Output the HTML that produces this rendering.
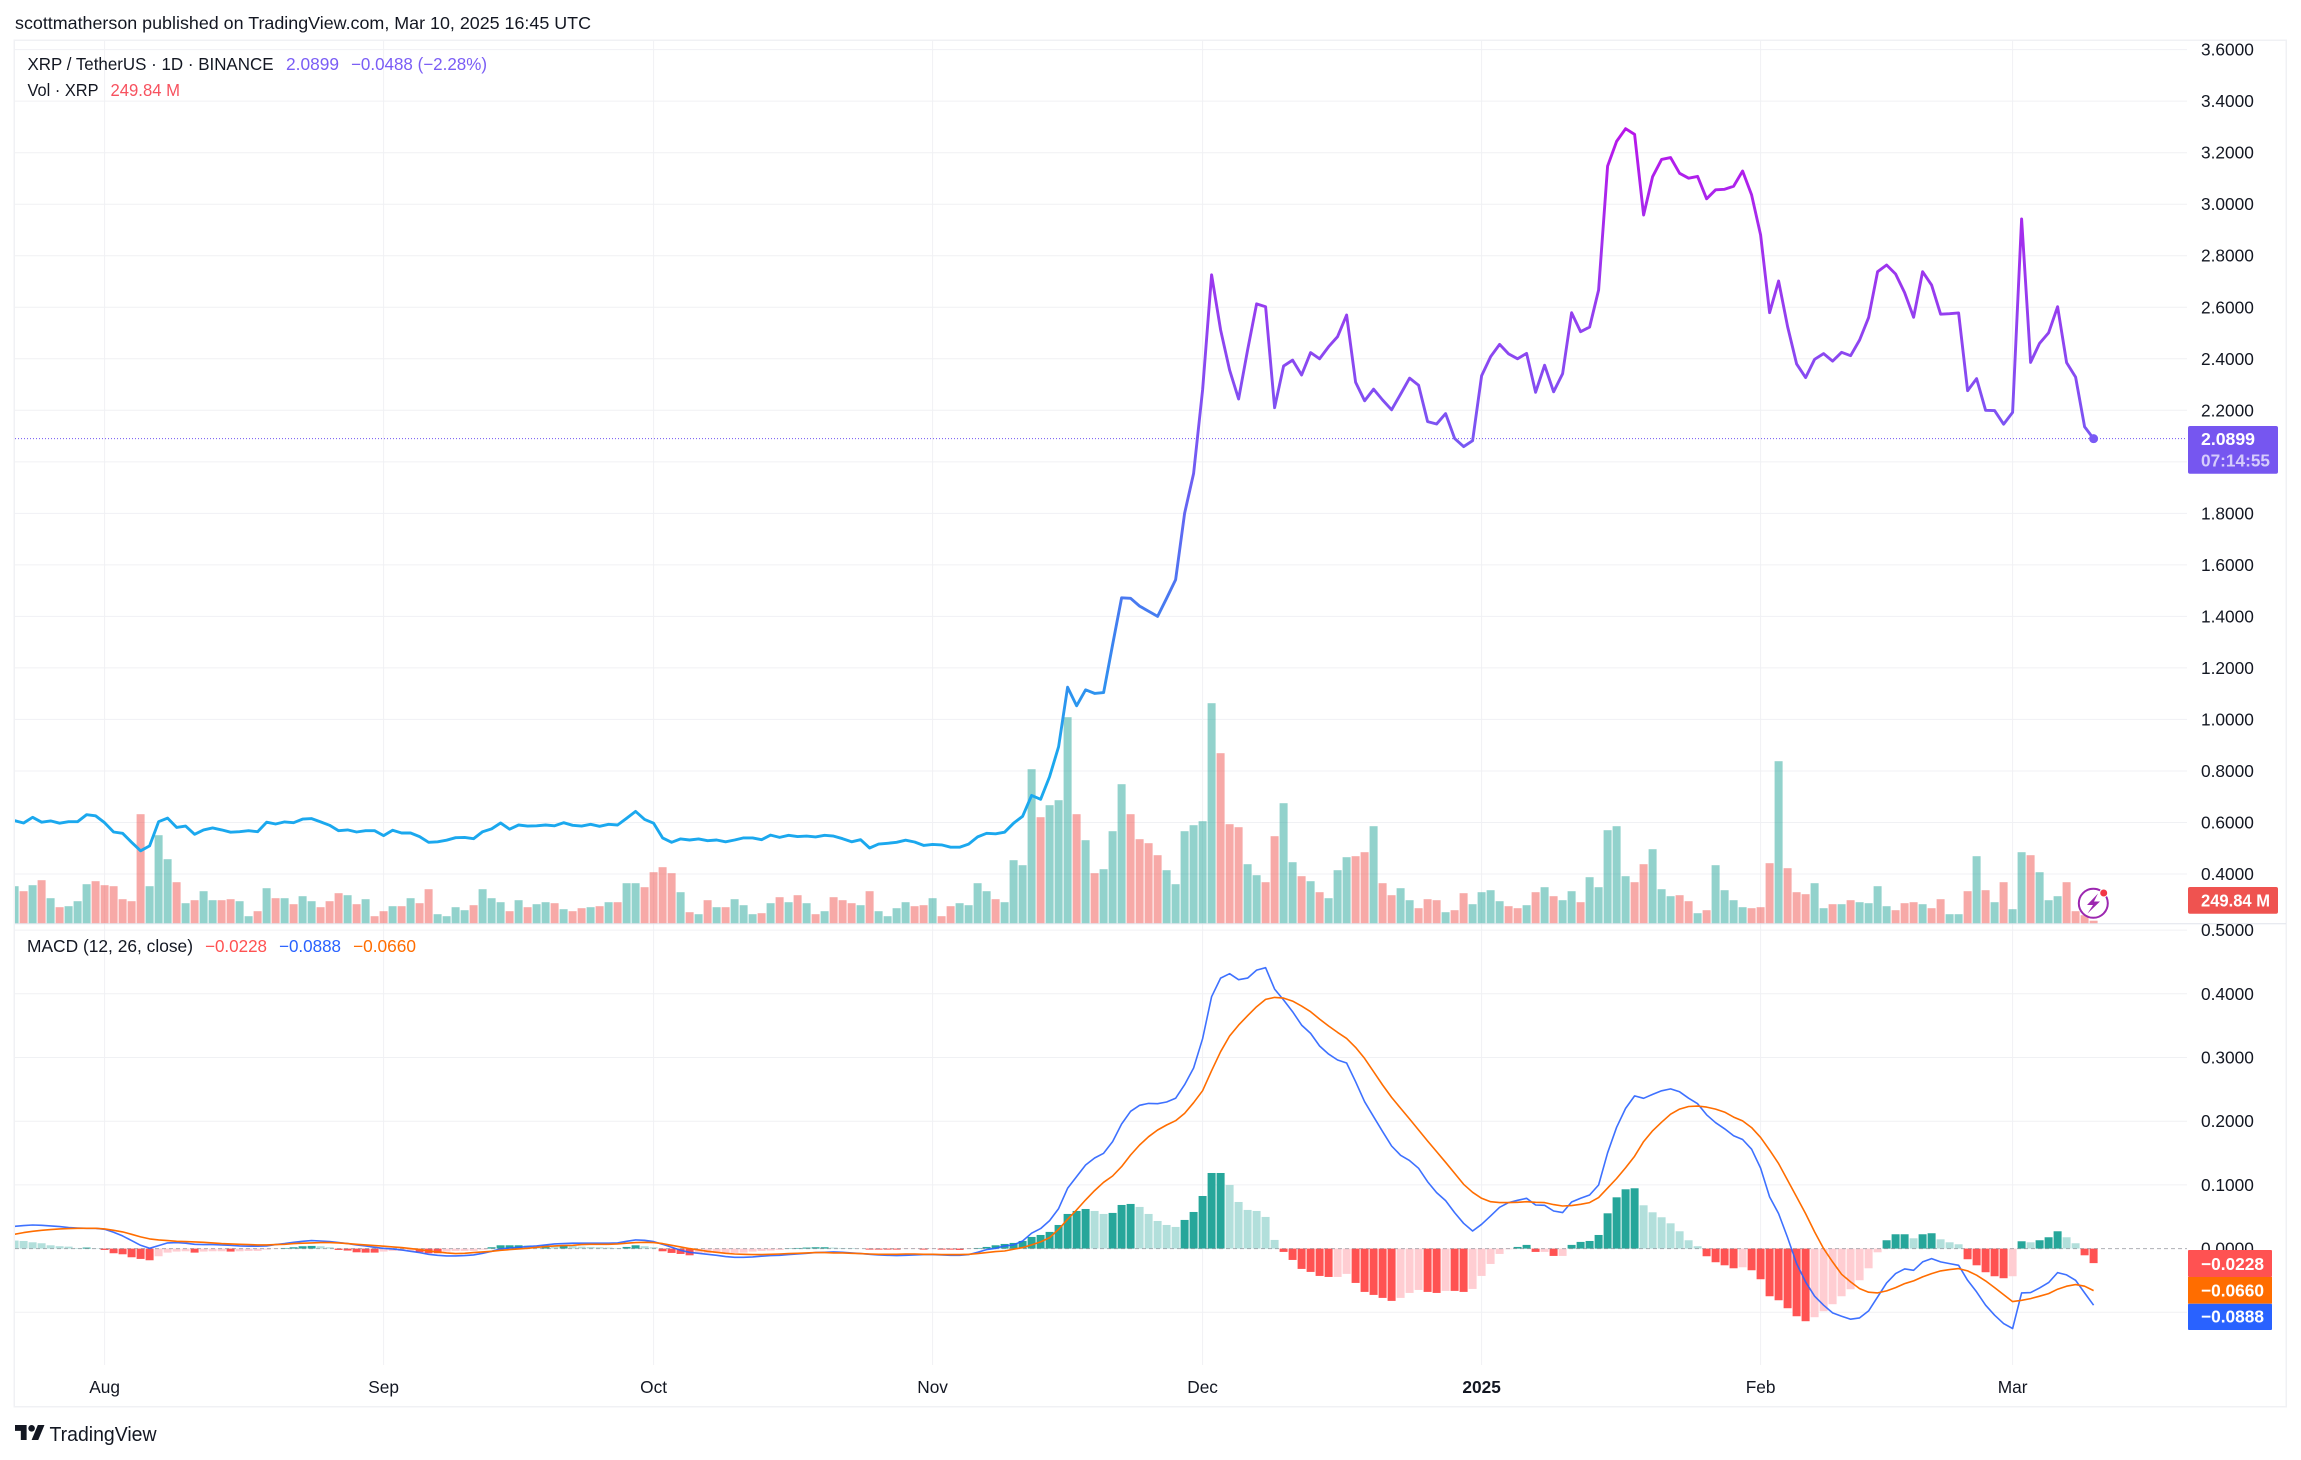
<!DOCTYPE html>
<html lang="en">
<head>
<meta charset="utf-8">
<title>XRP / TetherUS chart</title>
<style>
html,body{margin:0;padding:0;background:#fff;width:2301px;height:1460px;overflow:hidden}
svg{display:block}
text{font-family:"Liberation Sans",sans-serif;font-size:17.3px;fill:#131722}
</style>
</head>
<body>
<svg id="chart" xmlns="http://www.w3.org/2000/svg" width="2301" height="1460" viewBox="0 0 2301 1460">
  <defs>
    <linearGradient id="priceGradient" gradientUnits="userSpaceOnUse" x1="0" y1="125" x2="0" y2="850">
      <stop offset="0" stop-color="#b915ea"/>
      <stop offset="0.30" stop-color="#8e45f0"/>
      <stop offset="0.43" stop-color="#7a56f3"/>
      <stop offset="0.70" stop-color="#3f80f0"/>
      <stop offset="0.88" stop-color="#1ba8ee"/>
      <stop offset="1" stop-color="#1ba8ee"/>
    </linearGradient>
    <clipPath id="plotClip"><rect x="15" y="41" width="2172" height="1324"/></clipPath>
  </defs>
  <rect x="0" y="0" width="2301" height="1460" fill="#ffffff"/>
  <text x="15" y="29" textLength="576" lengthAdjust="spacingAndGlyphs">scottmatherson published on TradingView.com, Mar 10, 2025 16:45 UTC</text>
  <rect x="14.25" y="40.25" width="2272" height="1366.5" fill="none" stroke="#f0f1f4" stroke-width="1.5"/>

  <g id="gridLayer"></g>
  <line x1="15" x2="2286" y1="923.7" y2="923.7" stroke="#e0e3eb" stroke-width="1"/>

  <g clip-path="url(#plotClip)">
    <g id="volumeLayer"></g>
    <g id="histLayer"></g>
    <line x1="15" x2="2187" y1="1248.6" y2="1248.6" stroke="#787b86" stroke-opacity="0.6" stroke-width="1" stroke-dasharray="4 3"/>
    <polyline id="macdLine" fill="none" stroke="#2962ff" stroke-opacity="0.9" stroke-width="1.6" stroke-linejoin="round"/>
    <polyline id="signalLine" fill="none" stroke="#ff6d00" stroke-width="1.6" stroke-linejoin="round"/>
    <line id="lastPriceLine" x1="15" x2="2187" stroke="#7256f2" stroke-width="1" stroke-dasharray="1 2"/>
    <polyline id="priceLine" fill="none" stroke="url(#priceGradient)" stroke-width="2.9" stroke-linejoin="round"/>
    <circle id="lastPriceDot" r="4.5" fill="#7a5af5"/>
  </g>

  <g id="axisLayer"></g>

  <g>
    <text x="27.5" y="70" textLength="246" lengthAdjust="spacingAndGlyphs">XRP / TetherUS · 1D · BINANCE</text>
    <text x="286" y="70" textLength="53" lengthAdjust="spacingAndGlyphs" style="fill:#7a5df5">2.0899</text>
    <text x="351" y="70" textLength="136" lengthAdjust="spacingAndGlyphs" style="fill:#7a5df5">−0.0488 (−2.28%)</text>
    <text x="27.5" y="96" textLength="71" lengthAdjust="spacingAndGlyphs">Vol · XRP</text>
    <text x="110.5" y="96" textLength="69.5" lengthAdjust="spacingAndGlyphs" style="fill:#f7525f">249.84 M</text>
  </g>
  <g>
    <text x="27" y="952" textLength="166" lengthAdjust="spacingAndGlyphs">MACD (12, 26, close)</text>
    <text x="205" y="952" textLength="62" lengthAdjust="spacingAndGlyphs" style="fill:#ff5252">−0.0228</text>
    <text x="279" y="952" textLength="62" lengthAdjust="spacingAndGlyphs" style="fill:#2962ff">−0.0888</text>
    <text x="353" y="952" textLength="63" lengthAdjust="spacingAndGlyphs" style="fill:#ff6d00">−0.0660</text>
  </g>

  <g>
    <rect x="2188" y="426" width="90" height="47.7" rx="2" fill="#7656f0"/>
    <text x="2201" y="445" textLength="54" lengthAdjust="spacingAndGlyphs" style="fill:#ffffff;font-weight:bold">2.0899</text>
    <text x="2201" y="466.7" textLength="69" lengthAdjust="spacingAndGlyphs" style="fill:#d6ccfb;font-weight:bold">07:14:55</text>
  </g>
  <g>
    <rect x="2188" y="887" width="90" height="26.7" rx="2" fill="#ef5350"/>
    <text x="2201" y="906.7" textLength="69" lengthAdjust="spacingAndGlyphs" style="fill:#ffffff;font-weight:bold">249.84 M</text>
  </g>
  <g>
    <rect x="2188" y="1250" width="84" height="27" rx="1" fill="#ff5252"/>
    <text x="2201" y="1270" textLength="63" lengthAdjust="spacingAndGlyphs" style="fill:#ffffff;font-weight:bold">−0.0228</text>
    <rect x="2188" y="1277" width="84" height="26.7" fill="#ff6d00"/>
    <text x="2201" y="1296.7" textLength="63" lengthAdjust="spacingAndGlyphs" style="fill:#ffffff;font-weight:bold">−0.0660</text>
    <rect x="2188" y="1303.7" width="84" height="26.3" rx="1" fill="#2962ff"/>
    <text x="2201" y="1322.7" textLength="63" lengthAdjust="spacingAndGlyphs" style="fill:#ffffff;font-weight:bold">−0.0888</text>
  </g>

  <g>
    <circle cx="2093.3" cy="903.3" r="14.5" fill="#ffffff" fill-opacity="0.6" stroke="#9c27b0" stroke-width="2"/>
    <path d="M2098 893.5 L2087 905 L2093 905 L2087.5 913.5 L2100 901.5 L2094 901.5 Z" fill="#9c27b0"/>
    <circle cx="2103.7" cy="893" r="4" fill="#f23645" stroke="#ffffff" stroke-width="1"/>
  </g>

  <g>
    <path transform="translate(15 1421.7) scale(0.83)" d="M14 22H7V11H0V4h14v18zM28 22h-8l7.5-18h8L28 22z" fill="#131722"/>
    <circle cx="31.6" cy="1428.3" r="3.3" fill="#131722"/>
    <text x="49.5" y="1441" textLength="107" lengthAdjust="spacingAndGlyphs" style="font-size:20px">TradingView</text>
  </g>
</svg>

<script>
const monthLabels = ['Aug','Sep','Oct','Nov','Dec','2025','Feb','Mar'];
const monthDayIndex = [10,41,71,102,132,163,194,222];
const priceTicks = ['3.6000','3.4000','3.2000','3.0000','2.8000','2.6000','2.4000','2.2000','2.0000','1.8000','1.6000','1.4000','1.2000','1.0000','0.8000','0.6000','0.4000'];
const macdTicks = ['0.5000','0.4000','0.3000','0.2000','0.1000','0.0000','-0.1000'];

const closePrice = [
.607,.598,.620,.601,.606,.597,.603,.603,.630,.626,
.599,.563,.558,.523,.490,.509,.603,.617,.581,.586,
.554,.571,.579,.571,.562,.564,.568,.564,.601,.594,
.602,.599,.613,.615,.602,.589,.568,.571,.563,.568,
.568,.549,.570,.559,.559,.545,.523,.525,.531,.541,
.542,.537,.564,.575,.598,.574,.590,.586,.587,.590,
.587,.599,.589,.586,.593,.585,.593,.590,.616,.643,
.612,.597,.540,.523,.536,.532,.536,.529,.532,.525,
.532,.540,.540,.533,.551,.542,.550,.545,.547,.544,
.550,.547,.537,.525,.533,.501,.516,.519,.523,.531,
.524,.511,.515,.513,.504,.504,.516,.544,.558,.556,
.562,.597,.624,.705,.690,.778,.894,1.125,1.053,1.115,
1.101,1.104,1.29,1.472,1.47,1.44,1.42,1.40,1.47,1.542,
1.80,1.955,2.279,2.726,2.512,2.356,2.244,2.434,2.613,2.602,
2.210,2.372,2.395,2.337,2.424,2.400,2.447,2.486,2.570,2.309,
2.237,2.282,2.240,2.202,2.263,2.325,2.297,2.156,2.147,2.187,
2.091,2.059,2.082,2.334,2.408,2.456,2.419,2.400,2.421,2.270,
2.375,2.272,2.342,2.579,2.505,2.523,2.667,3.148,3.244,3.293,
3.271,2.958,3.107,3.174,3.181,3.120,3.101,3.108,3.021,3.056,
3.058,3.070,3.129,3.036,2.881,2.579,2.702,2.525,2.380,2.327,
2.398,2.420,2.391,2.425,2.412,2.473,2.560,2.738,2.764,2.729,
2.657,2.561,2.738,2.686,2.573,2.575,2.578,2.276,2.323,2.200,
2.199,2.146,2.192,2.943,2.386,2.460,2.501,2.602,2.385,2.329,
2.136,2.0899];

const volumeHundredM = [
37,32,38,43,25,16,17,22,39,42,
38,37,24,22,109,37,88,64,41,20,
23,32,23,23,24,22,7,12,35,25,
25,19,27,22,16,22,30,28,19,24,
7,12,17,17,25,20,34,9,7,16,
13,18,34,25,21,12,23,16,19,21,
20,14,12,15,16,17,21,21,40,40,
36,51,56,50,31,11,9,23,16,16,
24,18,9,10,20,26,21,28,20,9,
12,26,23,20,18,32,12,7,15,21,
17,18,25,7,17,20,18,40,32,24,
21,63,58,154,106,118,123,206,109,83,
50,54,92,139,109,84,80,68,53,39,
92,98,102,220,170,99,96,59,48,41,
87,120,61,47,42,31,25,53,66,67,
71,97,40,28,35,23,15,24,23,11,
13,30,19,31,33,22,17,15,18,31,
36,27,23,32,21,46,36,93,97,47,
41,59,74,34,27,28,22,10,13,58,
33,23,16,15,16,60,162,55,31,29,
40,15,19,19,23,21,20,37,17,13,
20,21,19,15,24,9,9,32,67,33,
21,41,14,71,68,51,23,27,41,12,
8,2.5];

const volumeDirection = [
'u','d','u','d','u','d','u','u','u','d',
'd','d','d','d','d','u','u','u','d','u',
'd','u','u','d','d','u','u','d','u','d',
'u','d','u','u','d','d','d','u','d','u',
'd','d','u','d','u','d','d','u','u','u',
'u','d','u','u','u','d','u','d','u','u',
'd','u','d','d','u','d','u','d','u','u',
'd','d','d','d','u','d','u','d','u','d',
'u','u','u','d','u','d','u','d','u','d',
'u','d','d','d','u','d','u','u','u','u',
'd','d','u','d','d','u','u','u','u','d',
'u','u','u','u','d','u','u','u','d','u',
'd','u','u','u','d','d','d','d','u','u',
'u','u','u','u','d','d','d','u','u','d',
'd','u','u','d','u','d','u','u','u','d',
'd','u','d','d','u','u','d','d','d','u',
'd','d','u','u','u','u','d','d','u','d',
'u','d','u','u','d','u','u','u','u','u',
'd','d','u','u','u','d','d','u','d','u',
'u','u','u','d','d','d','u','d','d','d',
'u','u','d','u','d','u','u','u','u','d',
'd','d','u','d','d','u','u','d','u','d',
'u','d','u','u','d','u','u','u','d','d',
'd','d'];

const macdValues = [
.0350,.0361,.0371,.0366,.0356,.0345,.0329,.0324,.0319,.0319,
.0303,.0256,.0199,.0126,.0052,.0005,.0047,.0089,.0094,.0084,
.0068,.0063,.0063,.0058,.0052,.0042,.0037,.0037,.0042,.0063,
.0078,.0099,.0115,.0126,.0120,.0110,.0094,.0078,.0058,.0042,
.0021,.0005,-.0005,-.0021,-.0042,-.0063,-.0089,-.0105,-.0115,-.0115,
-.0110,-.0099,-.0073,-.0042,-.0005,.0010,.0021,.0031,.0042,.0058,
.0073,.0078,.0084,.0084,.0084,.0084,.0084,.0089,.0115,.0136,
.0131,.0110,.0068,.0021,-.0026,-.0058,-.0073,-.0089,-.0105,-.0126,
-.0136,-.0136,-.0131,-.0120,-.0110,-.0105,-.0094,-.0084,-.0073,-.0063,
-.0058,-.0052,-.0058,-.0068,-.0078,-.0089,-.0099,-.0105,-.0110,-.0105,
-.0099,-.0094,-.0094,-.0099,-.0105,-.0105,-.0094,-.0058,-.0016,.0005,
.0042,.0058,.0120,.0241,.0314,.0439,.0628,.0947,.1130,.1313,
.1423,.1496,.1679,.1956,.2155,.2249,.2280,.2275,.2301,.2359,
.2573,.2835,.3295,.3954,.4247,.4315,.4221,.4247,.4372,.4409,
.4074,.3902,.3719,.3509,.3379,.3180,.3054,.2960,.2913,.2620,
.2306,.2071,.1836,.1611,.1464,.1381,.1260,.1051,.0879,.0753,
.0565,.0397,.0277,.0382,.0513,.0649,.0722,.0758,.0790,.0685,
.0680,.0591,.0565,.0732,.0790,.0842,.0999,.1504,.1905,.2201,
.2397,.2360,.2420,.2477,.2507,.2462,.2361,.2274,.2101,.1976,
.1881,.1771,.1712,.1560,.1264,.0811,.0549,.0173,-.0235,-.0523,
-.0748,-.0889,-.1009,-.1062,-.1109,-.1088,-.0978,-.0758,-.0539,-.0392,
-.0319,-.0340,-.0209,-.0157,-.0209,-.0235,-.0262,-.0497,-.0680,-.0889,
-.1046,-.1177,-.1255,-.0696,-.0690,-.0617,-.0533,-.0377,-.0413,-.0497,
-.0696,-.0888];

const signalValues = [
.0225,.0251,.0272,.0288,.0298,.0309,.0314,.0319,.0319,.0319,
.0309,.0288,.0262,.0225,.0183,.0152,.0136,.0126,.0115,.0110,
.0105,.0099,.0089,.0078,.0073,.0068,.0063,.0058,.0058,.0063,
.0068,.0078,.0084,.0089,.0094,.0094,.0089,.0078,.0068,.0058,
.0047,.0037,.0026,.0016,0,-.0016,-.0037,-.0052,-.0068,-.0078,
-.0073,-.0063,-.0052,-.0042,-.0026,-.0016,-.0005,.0005,.0021,.0031,
.0042,.0047,.0052,.0063,.0068,.0068,.0068,.0073,.0084,.0094,
.0099,.0094,.0078,.0052,.0026,0,-.0021,-.0042,-.0058,-.0073,
-.0084,-.0089,-.0094,-.0094,-.0089,-.0084,-.0078,-.0073,-.0068,-.0063,
-.0063,-.0068,-.0068,-.0073,-.0078,-.0084,-.0089,-.0089,-.0089,-.0084,
-.0084,-.0089,-.0089,-.0094,-.0094,-.0094,-.0089,-.0078,-.0063,-.0047,
-.0037,-.0010,.0016,.0058,.0105,.0173,.0303,.0460,.0607,.0764,
.0910,.1041,.1140,.1287,.1470,.1627,.1757,.1862,.1940,.2008,
.2123,.2291,.2479,.2793,.3091,.3337,.3509,.3656,.3797,.3912,
.3943,.3933,.3886,.3807,.3719,.3603,.3494,.3394,.3300,.3159,
.2986,.2777,.2568,.2374,.2202,.2034,.1862,.1689,.1522,.1355,
.1182,.1009,.0884,.0790,.0737,.0722,.0722,.0727,.0737,.0727,
.0722,.0690,.0669,.0675,.0696,.0722,.0800,.0950,.1100,.1270,
.1450,.1680,.1850,.1985,.2110,.2190,.2230,.2237,.2221,.2190,
.2143,.2065,.2005,.1900,.1745,.1546,.1334,.1072,.0811,.0549,
.0262,0,-.0209,-.0403,-.0523,-.0628,-.0685,-.0696,-.0664,-.0612,
-.0549,-.0507,-.0445,-.0392,-.0350,-.0329,-.0314,-.0350,-.0418,-.0507,
-.0612,-.0722,-.0832,-.0811,-.0785,-.0748,-.0706,-.0638,-.0591,-.0565,
-.0591,-.0660];

const histogramValues = [
.0126,.0120,.0099,.0084,.0052,.0037,.0031,.0010,.0016,.0005,
-.0021,-.0073,-.0089,-.0136,-.0162,-.0183,-.0120,-.0063,-.0047,-.0042,
-.0063,-.0047,-.0042,-.0042,-.0047,-.0042,-.0037,-.0037,-.0016,-.0005,
.0010,.0021,.0037,.0042,.0037,.0021,-.0021,-.0031,-.0058,-.0063,
-.0063,-.0047,-.0037,-.0037,-.0042,-.0058,-.0073,-.0073,-.0047,-.0037,
-.0037,-.0037,-.0016,.0021,.0052,.0052,.0052,.0052,.0031,.0047,
.0042,.0052,.0042,.0031,.0026,.0021,.0016,.0010,.0026,.0052,
.0037,.0021,-.0042,-.0068,-.0084,-.0105,-.0078,-.0068,-.0068,-.0078,
-.0068,-.0063,-.0047,-.0037,-.0031,-.0021,.0005,.0010,.0016,.0021,
.0021,.0016,.0010,.0010,.0002,-.0016,-.0016,-.0016,-.0016,-.0005,
-.0005,-.0016,-.0005,-.0016,-.0016,-.0021,-.0005,.0010,.0026,.0052,
.0073,.0089,.0120,.0183,.0214,.0262,.0371,.0544,.0591,.0622,
.0591,.0544,.0560,.0685,.0701,.0654,.0544,.0434,.0371,.0340,
.0450,.0575,.0826,.1187,.1187,.0999,.0732,.0607,.0591,.0497,
.0136,-.0052,-.0178,-.0319,-.0366,-.0429,-.0445,-.0445,-.0397,-.0539,
-.0680,-.0727,-.0774,-.0821,-.0774,-.0696,-.0649,-.0680,-.0696,-.0664,
-.0664,-.0680,-.0633,-.0429,-.0241,-.0084,-.0010,.0026,.0058,-.0052,
-.0052,-.0115,-.0115,.0058,.0105,.0120,.0214,.0554,.0805,.0931,
.0947,.0680,.0570,.0492,.0397,.0272,.0131,.0037,-.0120,-.0214,
-.0262,-.0309,-.0293,-.0340,-.0481,-.0748,-.0811,-.0936,-.1062,-.1140,
-.1077,-.0983,-.0873,-.0748,-.0638,-.0497,-.0309,-.0058,.0131,.0225,
.0225,.0162,.0225,.0241,.0146,.0099,.0068,-.0167,-.0262,-.0371,
-.0434,-.0465,-.0434,.0115,.0099,.0131,.0178,.0272,.0178,.0084,
-.0105,-.0228];

const histogramStrong = [
0,0,0,0,0,0,0,0,1,0,
1,1,1,1,1,1,0,0,0,0,
1,0,0,0,1,0,0,0,0,0,
1,1,1,1,0,0,1,1,1,1,
1,0,0,0,0,1,1,1,0,0,
0,0,0,1,1,1,1,0,0,1,
0,1,0,0,0,0,0,0,1,1,
0,0,1,1,1,1,0,0,0,0,
0,0,0,0,0,0,1,1,1,1,
1,0,0,0,0,1,1,1,1,0,
0,1,0,1,1,1,0,1,1,1,
1,1,1,1,1,1,1,1,1,1,
0,0,1,1,1,0,0,0,0,0,
1,1,1,1,1,0,0,0,0,0,
0,1,1,1,1,1,1,0,0,1,
1,1,1,1,0,0,0,1,1,0,
1,1,0,0,0,0,0,1,1,1,
0,1,0,1,1,1,1,1,1,1,
1,0,0,0,0,0,0,0,1,1,
1,1,0,1,1,1,1,1,1,1,
0,0,0,0,0,0,0,0,1,1,
1,0,1,1,0,0,0,1,1,1,
1,1,0,1,0,1,1,1,0,0,
1,1];

const SVG_NS = 'http://www.w3.org/2000/svg';
function xAt(i){ return 14.6 + 9 * i; }
function yPrice(p){ return 410.3 - (p - 2.2) * 257.6; }
function yMacd(v){ return 1248.6 - v * 637; }
function volumeHeight(v){ return v * 1; }
const VOLUME_BASE = 923.2;
const BAR_WIDTH = 8;

function create(tag, attrs, parent, content){
  const el = document.createElementNS(SVG_NS, tag);
  for (const k in attrs) el.setAttribute(k, attrs[k]);
  if (content !== undefined) el.textContent = content;
  parent.appendChild(el);
  return el;
}

const gridLayer = document.getElementById('gridLayer');
const axisLayer = document.getElementById('axisLayer');
const volumeLayer = document.getElementById('volumeLayer');
const histLayer = document.getElementById('histLayer');

priceTicks.forEach(function(label){
  const y = yPrice(parseFloat(label));
  const line = create('line', {x1:15, x2:2187, y1:y, y2:y, stroke:'#f0f1f4', 'stroke-width':1}, gridLayer);
  
  
  const text = create('text', {x:2201, y:y + 6}, axisLayer, label);
  
  
});

macdTicks.forEach(function(label){
  const v = parseFloat(label);
  const y = yMacd(v);
  if (v !== 0) {
    const line = create('line', {x1:15, x2:2187, y1:y, y2:y, stroke:'#f0f1f4', 'stroke-width':1}, gridLayer);
    
    
  }
  const text = create('text', {x:2201, y:y + 6}, axisLayer, label.replace('-', '−'));
  
  
});

monthLabels.forEach(function(label, k){
  const x = xAt(monthDayIndex[k]);
  const line = create('line', {x1:x, x2:x, y1:41, y2:1365, stroke:'#f0f1f4', 'stroke-width':1}, gridLayer);
  
  
  const attrs = {x:x, y:1393, 'text-anchor':'middle'};
  if (label === '2025') attrs.style = 'font-weight:bold';
  const text = create('text', attrs, axisLayer, label);
  
  
});

volumeHundredM.forEach(function(v, i){
  const h = volumeHeight(v);
  const fill = volumeDirection[i] === 'u' ? '#26a69a' : '#ef5350';
  const bar = create('rect', {x:xAt(i) - BAR_WIDTH / 2, y:VOLUME_BASE - h, width:BAR_WIDTH, height:h, fill:fill, 'fill-opacity':0.5}, volumeLayer);
  
  
});

histogramValues.forEach(function(v, i){
  const y0 = yMacd(0);
  const y1 = yMacd(v);
  const strong = histogramStrong[i] === 1;
  const fill = v >= 0 ? (strong ? '#26a69a' : '#b2dfdb') : (strong ? '#ff5252' : '#ffcdd2');
  const bar = create('rect', {x:xAt(i) - BAR_WIDTH / 2, y:Math.min(y0, y1), width:BAR_WIDTH, height:Math.abs(y1 - y0), fill:fill}, histLayer);
  
  
});

function pointsFor(values, yFn){
  return values.map(function(v, i){ return xAt(i).toFixed(1) + ',' + yFn(v).toFixed(1); }).join(' ');
}
document.getElementById('priceLine').setAttribute('points', pointsFor(closePrice, yPrice));
document.getElementById('macdLine').setAttribute('points', pointsFor(macdValues, yMacd));
document.getElementById('signalLine').setAttribute('points', pointsFor(signalValues, yMacd));

const lastIndex = closePrice.length - 1;
const lastY = yPrice(closePrice[lastIndex]);
const dot = document.getElementById('lastPriceDot');
dot.setAttribute('cx', xAt(lastIndex));
dot.setAttribute('cy', lastY);
const lastLine = document.getElementById('lastPriceLine');
lastLine.setAttribute('y1', lastY);
lastLine.setAttribute('y2', lastY);
</script>
</body>
</html>
